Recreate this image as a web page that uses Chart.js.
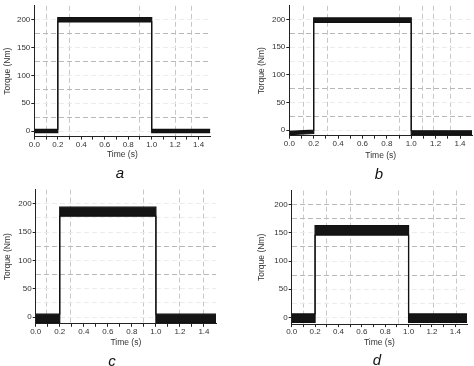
<!DOCTYPE html>
<html>
<head>
<meta charset="utf-8">
<script src="https://cdn.jsdelivr.net/npm/chart.js@4/dist/chart.umd.min.js"></script>
<style>
  body { margin: 0; background: #fff; width: 474px; height: 366px; position: relative; overflow: hidden;
         font-family: "Liberation Sans", Arial, sans-serif; }
  .box { position: absolute; width: 237px; height: 183px; }
  .lbl { position: absolute; font-style: italic; font-size: 15px; color: #111; transform: translate(-50%, -50%); }
</style>
</head>
<body>
<div class="box" style="left:0;top:0"><canvas id="chA" width="237" height="183"></canvas></div>
<div class="box" style="left:237px;top:0"><canvas id="chB" width="237" height="183"></canvas></div>
<div class="box" style="left:0;top:183px"><canvas id="chC" width="237" height="183"></canvas></div>
<div class="box" style="left:237px;top:183px"><canvas id="chD" width="237" height="183"></canvas></div>
<div class="lbl" style="left:120px;top:172px">a</div>
<div class="lbl" style="left:379px;top:173px">b</div>
<div class="lbl" style="left:112px;top:360px">c</div>
<div class="lbl" style="left:377px;top:359px">d</div>

<script>
// ========== DADOS ==========
// step times (s): load applied at 0.2 s, released at 1.0 s
const stepTimes = [0, 0.2, 0.2, 1.0, 1.0, 1.5];

// noise band of the torque signal (Nm), upper and lower edge
const aUpper = [3, 3, 204, 204, 3, 3];
const aLower = [-3, -3, 196, 196, -3, -3];
const bUpper = [-2, 0, 203, 203, -1, -1];
const bLower = [-8, -6, 195, 195, -8, -8];
const cUpper = [5, 5, 194, 194, 5, 5];
const cLower = [-10, -10, 178, 178, -10, -10];
const dUpper = [6, 6, 163, 163, 6, 6];
const dLower = [-9, -9, 146, 146, -9, -9];

// ticks
const xTicks = [0, 0.1, 0.2, 0.3, 0.4, 0.5, 0.6, 0.7, 0.8, 0.9, 1.0, 1.1, 1.2, 1.3, 1.4];
const yTicks = [0, 25, 50, 75, 100, 125, 150, 175, 200];

// background grid lines of each panel
const aGridX = [0.1, 0.3, 0.9, 1.2, 1.34];
const bGridX = [0.12, 0.31, 0.9, 1.09, 1.18, 1.32];
const cGridX = [0.09, 0.29, 0.9, 1.2, 1.4];
const dGridX = [0.1, 0.3, 0.5, 0.91, 1.21, 1.41];
const aGridY = [25, 75, 125, 175];
const bGridY = [25, 75, 175];
const cGridY = [75, 125];
const dGridY = [75, 125, 175, 200];

// ========== GRÁFICOS ==========
function criarGrafico(id, upper, lower, gridX, gridY, o) {
  const fonte = { family: '"Liberation Sans", Arial, sans-serif' };
  new Chart(document.getElementById(id), {
    type: 'line',
    data: {
      datasets: [
        {
          data: stepTimes.map((t, i) => ({ x: t, y: upper[i] })),
          borderColor: '#111', borderWidth: 1.2, pointRadius: 0, tension: 0, fill: false,
          xAxisID: 'x', yAxisID: 'y'
        },
        {
          data: stepTimes.map((t, i) => ({ x: t, y: lower[i] })),
          borderColor: '#111', borderWidth: 1.2, pointRadius: 0, tension: 0,
          fill: '-1', backgroundColor: '#151515',
          xAxisID: 'x', yAxisID: 'y'
        }
      ]
    },
    options: {
      responsive: false,
      animation: false,
      layout: { padding: o.pad },
      plugins: { legend: { display: false }, tooltip: { enabled: false } },
      scales: {
        x: {
          type: 'linear', position: 'bottom', min: 0, max: 1.5,
          afterBuildTicks: s => { s.ticks = xTicks.map(v => ({ value: v })); },
          afterFit: s => { s.height = o.xH; },
          ticks: {
            autoSkip: false, maxRotation: 0, padding: 0, color: '#333',
            font: { ...fonte, size: 8 },
            callback: v => (Math.round(v * 10) % 2 === 0 ? v.toFixed(1) : '')
          },
          grid: { drawOnChartArea: false, tickLength: 3, tickColor: '#222' },
          border: { display: true, color: '#222', width: 1 },
          title: { display: true, text: 'Time (s)', color: '#333', padding: 0, font: { ...fonte, size: 8.5 } }
        },
        g: {
          axis: 'x', type: 'linear', position: 'bottom', min: 0, max: 1.5,
          afterBuildTicks: s => { s.ticks = gridX.map(v => ({ value: v })); },
          afterFit: s => { s.height = 0; },
          ticks: { display: false },
          grid: { drawTicks: false, color: '#c8c8c8', lineWidth: 1 },
          border: { display: false, dash: [5, 3] }
        },
        y: {
          type: 'linear', position: 'left', min: o.yMin, max: 225,
          afterBuildTicks: s => { s.ticks = yTicks.map(v => ({ value: v })); },
          afterFit: s => { s.width = o.yW; },
          ticks: {
            autoSkip: false, padding: 1, color: '#333',
            font: { ...fonte, size: 8 },
            callback: v => (v % 50 === 0 ? String(v) : '')
          },
          grid: {
            tickLength: 3,
            color: c => (c.tick && gridY.includes(c.tick.value) ? '#b8b8b8' : '#ececec'),
            tickColor: c => (c.tick && c.tick.value % 50 === 0 ? '#222' : 'rgba(0,0,0,0)')
          },
          border: { display: true, color: '#222', width: 1, dash: [5, 3] },
          title: { display: true, text: 'Torque (Nm)', color: '#333', padding: 0, font: { ...fonte, size: 8.5 } }
        }
      }
    }
  });
}

criarGrafico('chA', aUpper, aLower, aGridX, aGridY,
  { yMin: -10, yW: 31.8, xH: 23.5, pad: { left: 2.5, top: 5, right: 26.6, bottom: 22.9 } });
criarGrafico('chB', bUpper, bLower, bGridX, bGridY,
  { yMin: -10, yW: 32.3, xH: 25.1, pad: { left: 20, top: 1, right: 1.8, bottom: 22.2 } });
criarGrafico('chC', cUpper, cLower, cGridX, cGridY,
  { yMin: -12, yW: 32.7, xH: 24.3, pad: { left: 3, top: 6.6, right: 21, bottom: 17.9 } });
criarGrafico('chD', dUpper, dLower, dGridX, dGridY,
  { yMin: -12, yW: 34.7, xH: 23.3, pad: { left: 20, top: 7.6, right: 7, bottom: 18.6 } });
</script>
</body>
</html>
